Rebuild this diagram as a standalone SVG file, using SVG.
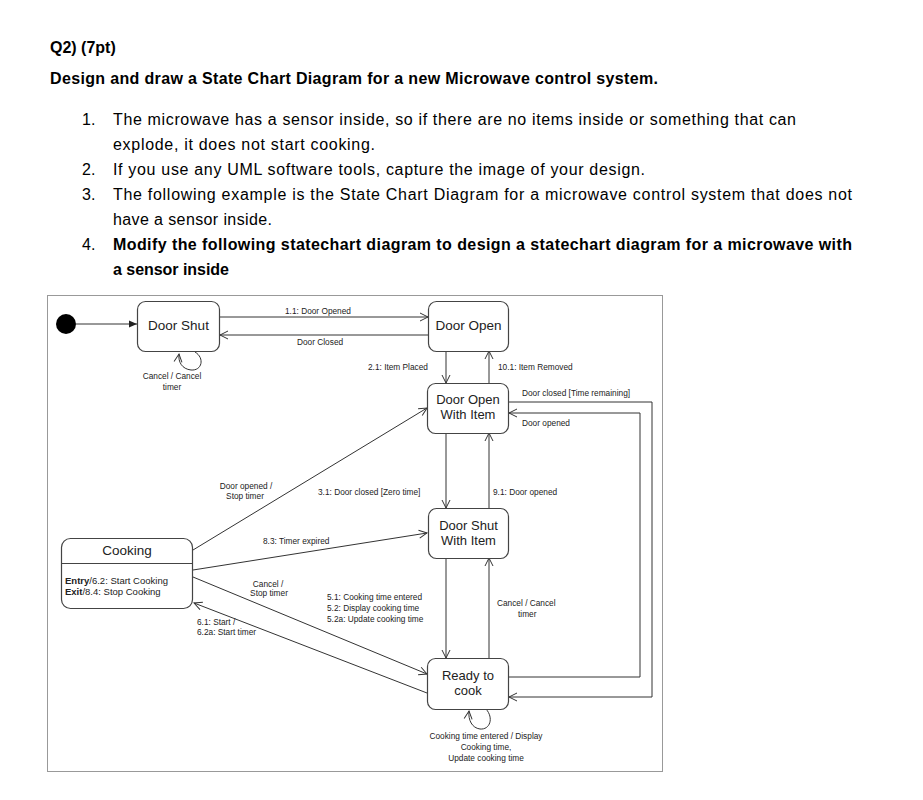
<svg xmlns="http://www.w3.org/2000/svg" width="923" height="800" viewBox="0 0 923 800">
<defs>
<style>
.h{font-family:"Liberation Sans",Arial,sans-serif;font-size:16px;fill:#000}
.b{font-weight:bold}
.node{fill:#fff;stroke:#444;stroke-width:1.2}
.nt{font-family:"Liberation Sans",Arial,sans-serif;font-size:13.5px;fill:#222;text-anchor:middle}
.nt2{font-family:"Liberation Sans",Arial,sans-serif;font-size:13px;fill:#222;text-anchor:middle}
.lb{font-family:"Liberation Sans",Arial,sans-serif;font-size:8.3px;fill:#222}
.ct{font-family:"Liberation Sans",Arial,sans-serif;font-size:9.5px;fill:#222}
.c{fill:none;stroke:#333;stroke-width:1}
.a{marker-end:url(#open)}
</style>
<marker id="open" markerWidth="10" markerHeight="10" refX="9" refY="5" orient="auto" markerUnits="userSpaceOnUse"><path d="M1,1 L9,5 L1,9" fill="none" stroke="#333" stroke-width="1"/></marker>
<marker id="filled" markerWidth="10" markerHeight="10" refX="8" refY="5" orient="auto" markerUnits="userSpaceOnUse"><path d="M0,1.5 L8,5 L0,8.5 z" fill="#222"/></marker>
</defs>
<rect width="923" height="800" fill="#fff"/>

<g id="question">
<text class="h b" x="50" y="53">Q2) (7pt)</text>
<text class="h b" x="50" y="84" textLength="608">Design and draw a State Chart Diagram for a new Microwave control system.</text>
<text class="h" x="82" y="125">1.</text>
<text class="h" x="113" y="125" textLength="683">The microwave has a sensor inside, so if there are no items inside or something that can</text>
<text class="h" x="113" y="150" textLength="262">explode, it does not start cooking.</text>
<text class="h" x="82" y="175">2.</text>
<text class="h" x="113" y="175" textLength="532">If you use any UML software tools, capture the image of your design.</text>
<text class="h" x="82" y="200">3.</text>
<text class="h" x="113" y="200" textLength="739">The following example is the State Chart Diagram for a microwave control system that does not</text>
<text class="h" x="113" y="225" textLength="159">have a sensor inside.</text>
<text class="h" x="82" y="250">4.</text>
<text class="h b" x="113" y="250" textLength="739">Modify the following statechart diagram to design a statechart diagram for a microwave with</text>
<text class="h b" x="113" y="275" textLength="116">a sensor inside</text>
</g>

<rect id="frame" x="47.5" y="295.5" width="615" height="476" fill="none" stroke="#999" stroke-width="1"/>

<g id="connectors">
<path class="c" d="M76 324 L137 324" marker-end="url(#filled)"/>
<path class="c a" d="M220 317 L428 317"/>
<path class="c a" d="M428 335 L220 335"/>
<path class="c a" d="M195 352 C205 358 202 371 191 370 C182 369 178 362 179 354"/>
<path class="c a" d="M446 351 L446 383"/>
<path class="c a" d="M489 383 L489 351"/>
<path class="c a" d="M509 402 L652 402 L652 697 L509 697"/>
<path class="c a" d="M509 677 L640 677 L640 413 L509 413"/>
<path class="c a" d="M446 433 L446 508"/>
<path class="c a" d="M489 508 L489 433"/>
<path class="c a" d="M446 558 L446 658"/>
<path class="c a" d="M489 658 L489 558"/>
<path class="c a" d="M193 550 L427 408"/>
<path class="c a" d="M193 570 L427 533"/>
<path class="c a" d="M193 577 L427 674"/>
<path class="c a" d="M427 693 L194 603"/>
<path class="c a" d="M486 709 C494 718 490 730 480 729 C472 728 468 720 469 711"/>
</g>

<g id="labels">
<text class="lb" x="285" y="314">1.1: Door Opened</text>
<text class="lb" x="297" y="345">Door Closed</text>
<text class="lb" x="172" y="379" text-anchor="middle">Cancel / Cancel</text>
<text class="lb" x="172" y="390" text-anchor="middle">timer</text>
<text class="lb" x="368" y="370">2.1: Item Placed</text>
<text class="lb" x="498" y="370">10.1: Item Removed</text>
<text class="lb" x="522" y="396">Door closed [Time remaining]</text>
<text class="lb" x="522" y="426">Door opened</text>
<text class="lb" x="246" y="489" text-anchor="middle">Door opened /</text>
<text class="lb" x="245" y="499" text-anchor="middle">Stop timer</text>
<text class="lb" x="318" y="495">3.1: Door closed [Zero time]</text>
<text class="lb" x="493" y="495">9.1: Door opened</text>
<text class="lb" x="263" y="544">8.3: Timer expired</text>
<text class="lb" x="268" y="587" text-anchor="middle">Cancel /</text>
<text class="lb" x="269" y="596" text-anchor="middle">Stop timer</text>
<text class="lb" x="197" y="625">6.1: Start /</text>
<text class="lb" x="197" y="635">6.2a: Start timer</text>
<text class="lb" x="327" y="600">5.1: Cooking time entered</text>
<text class="lb" x="327" y="611">5.2: Display cooking time</text>
<text class="lb" x="327" y="622">5.2a: Update cooking time</text>
<text class="lb" x="497" y="606">Cancel / Cancel</text>
<text class="lb" x="518" y="617">timer</text>
<text class="lb" x="486" y="739" text-anchor="middle">Cooking time entered / Display</text>
<text class="lb" x="486" y="750" text-anchor="middle">Cooking time,</text>
<text class="lb" x="486" y="761" text-anchor="middle">Update cooking time</text>
</g>

<g id="initial"><circle cx="66" cy="324" r="10" fill="#000"/></g>

<g id="door-shut">
<rect class="node" x="137.5" y="301.5" width="82" height="50" rx="8"/>
<text class="nt" x="178.5" y="330">Door Shut</text>
</g>

<g id="door-open">
<rect class="node" x="428.5" y="301.5" width="80" height="50" rx="8"/>
<text class="nt" x="468.5" y="330">Door Open</text>
</g>

<g id="door-open-with-item">
<rect class="node" x="427.5" y="383.5" width="81" height="50" rx="8"/>
<text class="nt2" x="468" y="404">Door Open</text>
<text class="nt2" x="468" y="419">With Item</text>
</g>

<g id="door-shut-with-item">
<rect class="node" x="428.5" y="508.5" width="80" height="50" rx="8"/>
<text class="nt2" x="468.5" y="530">Door Shut</text>
<text class="nt2" x="468.5" y="545">With Item</text>
</g>

<g id="ready-to-cook">
<rect class="node" x="427.5" y="658.5" width="81" height="51" rx="8"/>
<text class="nt2" x="468" y="680">Ready to</text>
<text class="nt2" x="468" y="695">cook</text>
</g>

<g id="cooking">
<rect class="node" x="61.5" y="538.5" width="131" height="70" rx="9"/>
<line x1="61.5" y1="563.5" x2="192.5" y2="563.5" stroke="#444" stroke-width="1.2"/>
<text class="nt" x="127" y="555">Cooking</text>
<text class="ct" x="65" y="584"><tspan font-weight="bold">Entry</tspan>/6.2: Start Cooking</text>
<text class="ct" x="65" y="595"><tspan font-weight="bold">Exit</tspan>/8.4: Stop Cooking</text>
</g>
</svg>
